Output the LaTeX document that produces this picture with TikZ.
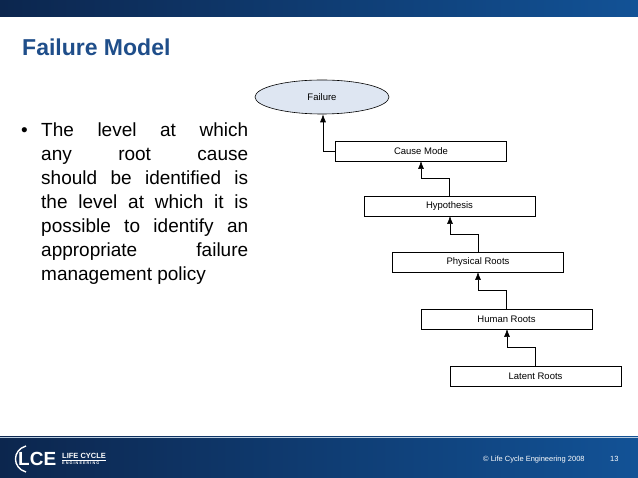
\documentclass[tikz,border=0pt]{standalone}
\usepackage{fontspec}
\setmainfont{Liberation Sans}
\usetikzlibrary{shapes.geometric,arrows.meta}
\definecolor{navy}{RGB}{12,38,78}
\definecolor{lblue}{RGB}{18,82,150}
\definecolor{titleblue}{RGB}{31,78,138}
\definecolor{ellfill}{RGB}{222,230,242}
\tikzset{
 box/.style={draw=black,line width=0.6pt,fill=white,minimum width=171pt,minimum height=20pt,inner sep=0pt,font=\fontsize{9.5}{10}\selectfont},
 conn/.style={line width=0.6pt,-{Latex[length=8pt,width=6pt]}},
 ln/.style={anchor=base west,inner sep=0pt,font=\fontsize{19}{22}\selectfont}
}
\begin{document}
\begin{tikzpicture}[x=1pt,y=-1pt]
\useasboundingbox (0,0) rectangle (638,478);
\fill[white] (0,0) rectangle (638,478);
\shade[left color=navy,right color=lblue] (0,0) rectangle (638,17);
\shade[left color=navy,right color=lblue] (0,437) rectangle (638,478);
\draw[white!70!lblue,line width=0.6pt] (0,437) -- (638,437);
\node[anchor=base west,inner sep=0pt,text=titleblue,font=\fontsize{23}{26}\selectfont\bfseries] (title) at (22,56) {Failure Model};
\node[anchor=base west,inner sep=0pt,font=\fontsize{19}{22}\selectfont] (bul) at (21,137) {•};
\foreach \t [count=\i] in {The level at which,any root cause,should be identified is,the level at which it is,possible to identify an,appropriate failure}
  \node[ln] (l\i) at (41,113+\i*24) {\makebox[207pt][s]{\t}};
\node[ln] (l7) at (41,281) {management policy};
\node[draw=black,line width=0.6pt,fill=ellfill,ellipse,minimum width=134pt,minimum height=34pt,inner sep=0pt,font=\fontsize{9.5}{10}\selectfont] (f) at (322,97) {Failure};
\node[box] (cm) at (421,151) {Cause Mode};
\node[box] (hy) at (449.5,206) {Hypothesis};
\node[box] (ph) at (478,262) {Physical Roots};
\node[box] (hu) at (506.5,319) {Human Roots};
\node[box] (la) at (535.5,376) {Latent Roots};
\draw[conn] (cm.west) -| (f.south -| 323,0);
\draw[conn] (hy.north) |- (421,178) -- (421,161);
\draw[conn] (ph.north) |- (450,234) -- (450,216);
\draw[conn] (hu.north) |- (478,290) -- (478,272);
\draw[conn] (la.north) |- (507,347) -- (507,329);
% footer
\node[anchor=west,inner sep=0pt,text=white,font=\fontsize{19}{20}\selectfont\bfseries] (lce) at (18,459) {LCE};
\draw[white,line width=1.4pt] (26,446) .. controls (12,450) and (12,468) .. (26,472);
\node[anchor=base west,inner sep=0pt,text=white,font=\fontsize{7.5}{8}\selectfont\bfseries] (lc) at (62,459) {\underline{LIFE CYCLE}};
\node[anchor=base west,inner sep=0pt,text=white,font=\fontsize{3.8}{4}\selectfont\bfseries] (en) at (62,465) {E N G I N E E R I N G};
\node[anchor=base west,inner sep=0pt,text=white,font=\fontsize{7.5}{8}\selectfont] (cp) at (483,462) {© Life Cycle Engineering 2008};
\node[anchor=base west,inner sep=0pt,text=white,font=\fontsize{7.5}{8}\selectfont] (pn) at (610,462) {13};
\end{tikzpicture}
\end{document}
